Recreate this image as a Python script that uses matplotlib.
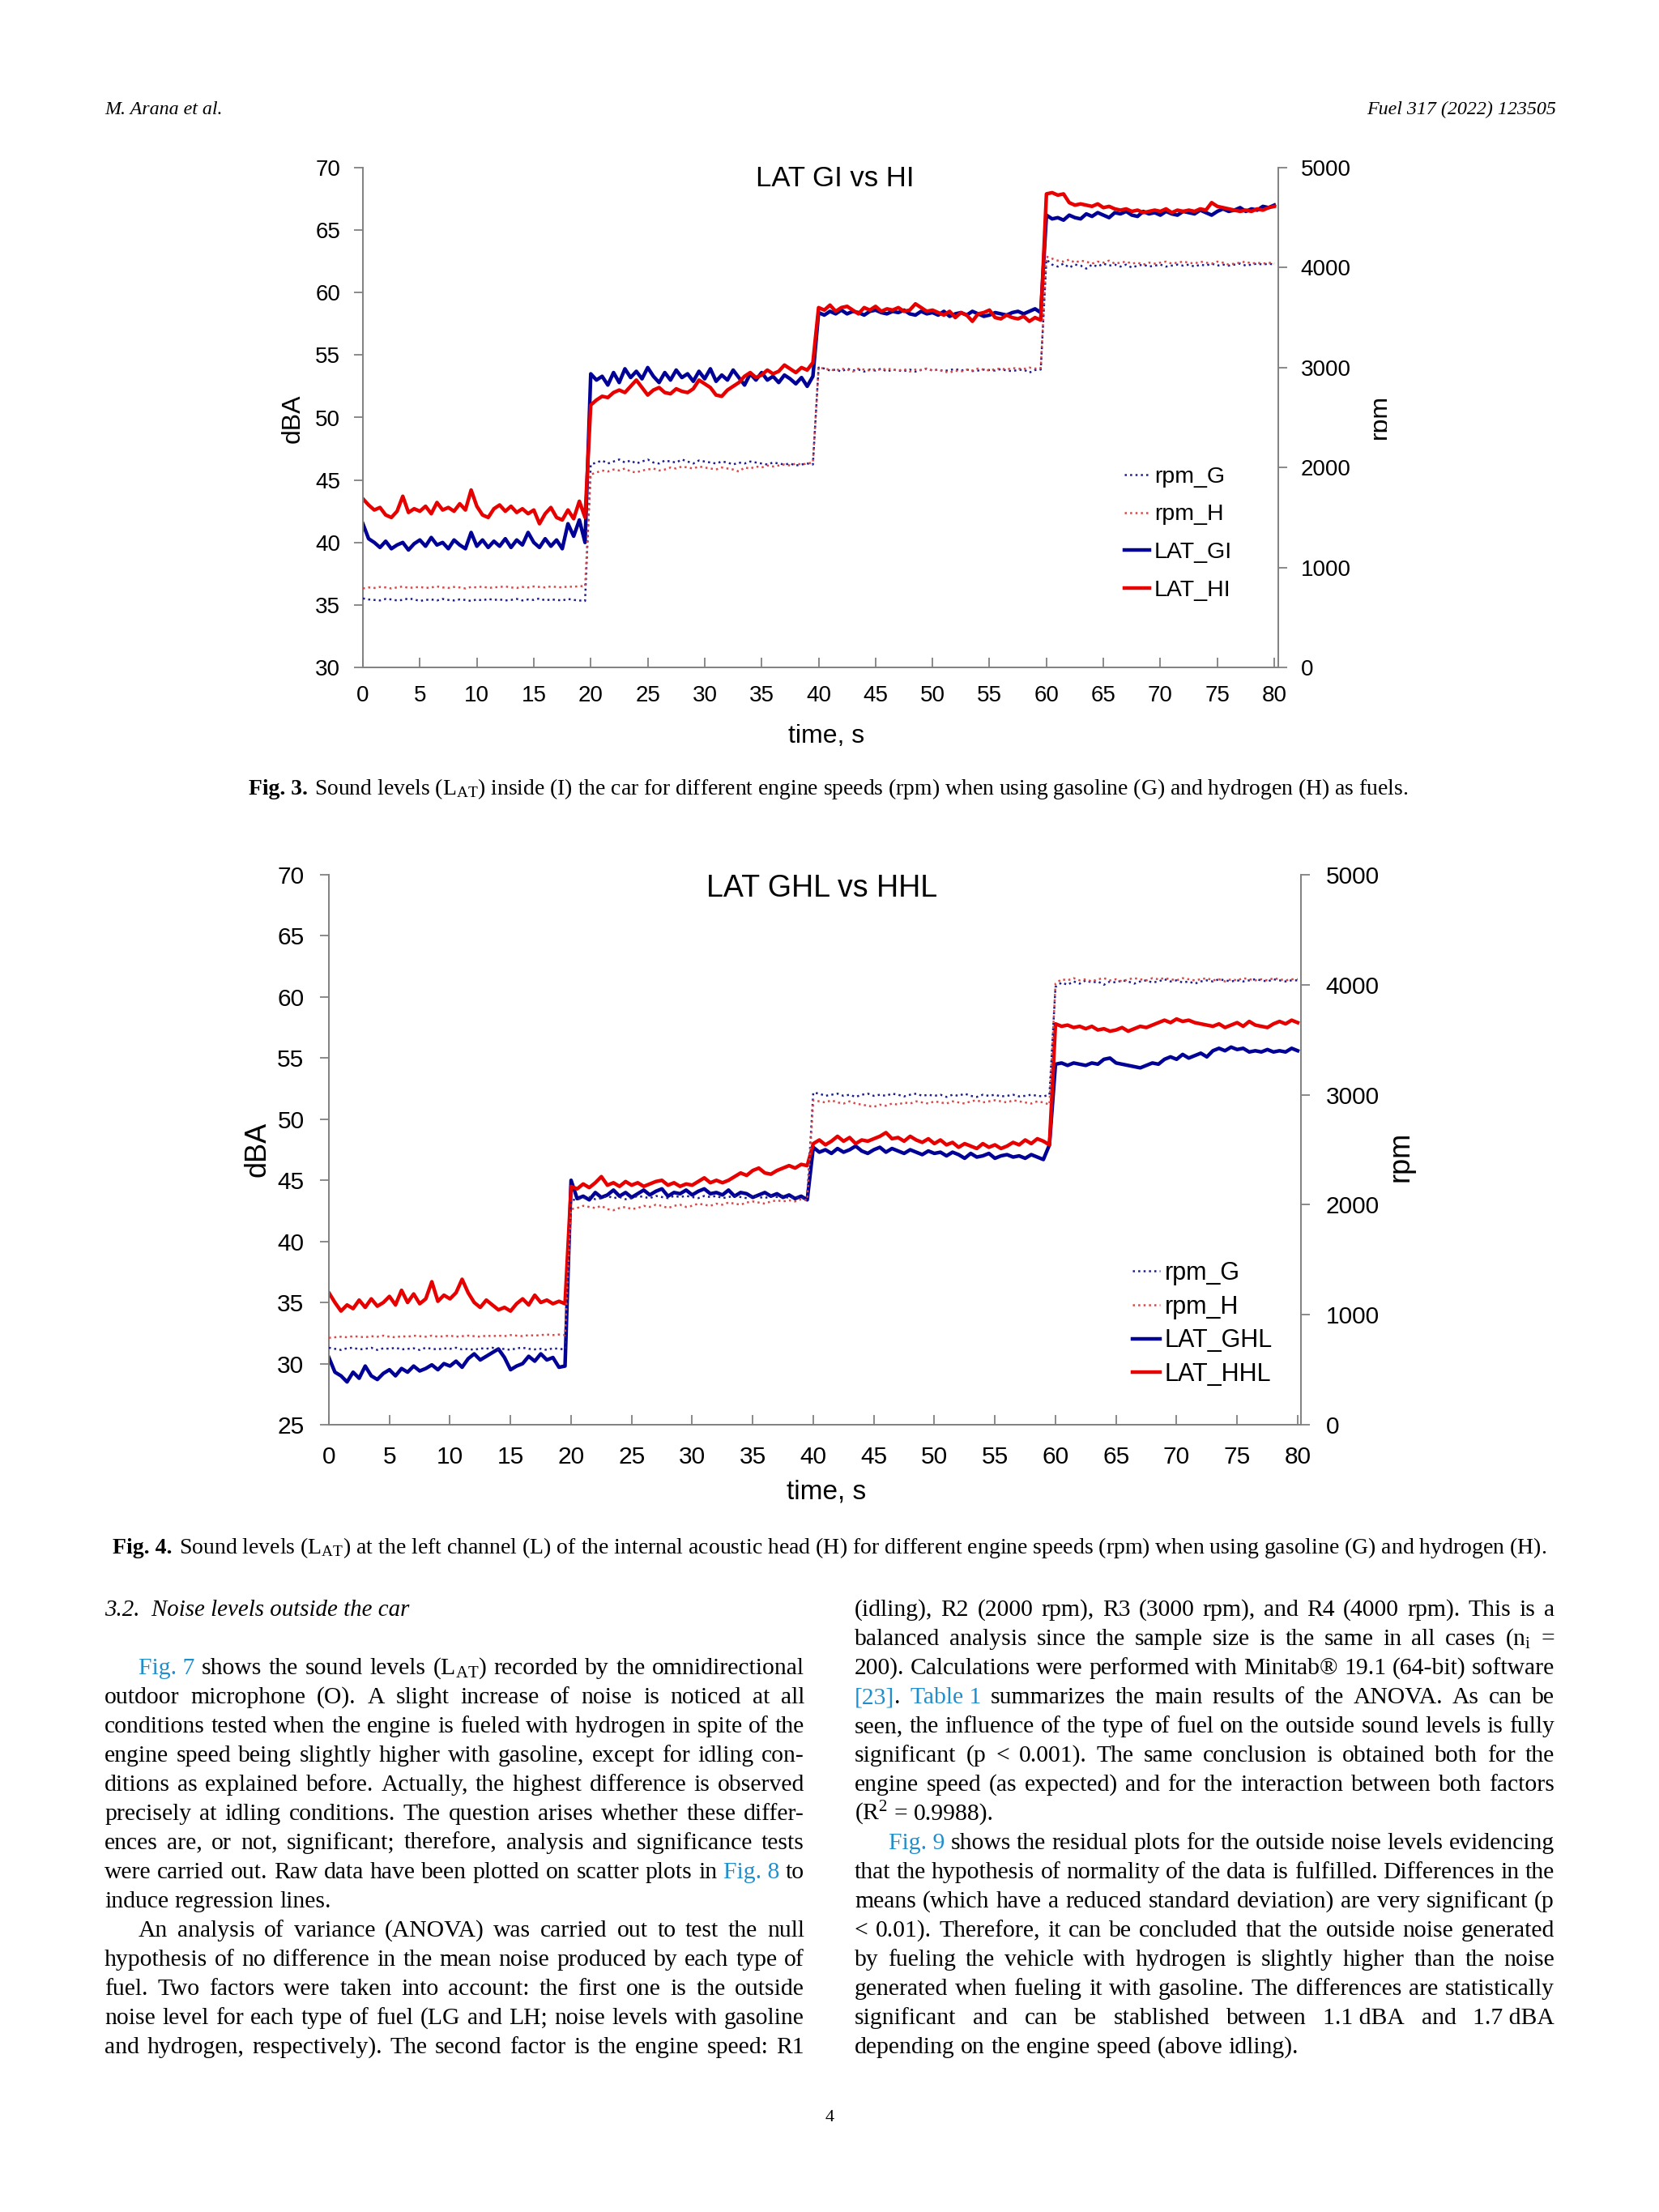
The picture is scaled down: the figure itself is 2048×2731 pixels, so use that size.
import numpy as np
import matplotlib
matplotlib.use('Agg')
import matplotlib.pyplot as plt
from matplotlib.lines import Line2D
from matplotlib.transforms import Bbox

# ---- data (0.5 s steps, 0..80 s) ----
time_s = np.arange(0, 80.5, 0.5)

fig3_lat_gi = [
    41.5, 40.3, 40.0, 39.6, 40.1, 39.5, 39.8, 40.0, 39.4, 39.9, 40.2, 39.7, 40.4, 39.8, 40.0, 39.5, 40.2, 39.8, 39.5, 40.8,
    39.7, 40.2, 39.6, 40.1, 39.7, 40.3, 39.6, 40.2, 39.8, 40.8, 40.0, 39.6, 40.3, 39.7, 40.2, 39.5, 41.5, 40.5, 41.8, 40.0,
    53.5, 53.0, 53.3, 52.6, 53.6, 52.8, 53.9, 53.2, 53.7, 53.1, 54.0, 53.3, 52.8, 53.6, 53.0, 53.8, 53.2, 53.5, 52.9, 53.7,
    53.1, 53.9, 52.9, 53.4, 53.0, 53.8, 53.2, 52.6, 53.5, 53.0, 53.6, 53.0, 53.3, 52.8, 53.4, 53.1, 52.7, 53.2, 52.5, 53.3,
    58.4, 58.2, 58.5, 58.3, 58.6, 58.3, 58.5, 58.4, 58.2, 58.5, 58.6, 58.4, 58.3, 58.5, 58.4, 58.6, 58.3, 58.2, 58.5, 58.3,
    58.4, 58.2, 58.5, 58.1, 58.3, 58.4, 58.2, 58.5, 58.3, 58.1, 58.2, 58.4, 58.3, 58.2, 58.4, 58.5, 58.3, 58.5, 58.7, 58.4,
    66.2, 65.9, 66.0, 65.8, 66.2, 66.0, 65.9, 66.3, 66.1, 66.4, 66.2, 66.0, 66.4, 66.3, 66.5, 66.2, 66.1, 66.5, 66.3, 66.4,
    66.2, 66.5, 66.3, 66.2, 66.5, 66.4, 66.3, 66.6, 66.4, 66.2, 66.5, 66.7, 66.5, 66.6, 66.8, 66.5, 66.7, 66.6, 66.9, 66.8,
    67.0]
fig3_lat_hi = [
    43.5, 43.0, 42.6, 42.8, 42.2, 42.0, 42.5, 43.7, 42.4, 42.7, 42.5, 42.9, 42.3, 43.2, 42.6, 42.8, 42.5, 43.1, 42.6, 44.2,
    42.9, 42.2, 42.0, 42.7, 43.0, 42.5, 42.9, 42.4, 42.7, 42.3, 42.6, 41.5, 42.3, 42.8, 42.0, 41.8, 42.6, 41.9, 43.3, 42.0,
    51.0, 51.4, 51.7, 51.6, 52.0, 52.2, 52.0, 52.5, 53.0, 52.4, 51.8, 52.2, 52.4, 52.0, 51.9, 52.3, 52.1, 52.0, 52.3, 53.0,
    52.7, 52.4, 51.8, 51.7, 52.2, 52.5, 52.8, 53.3, 53.6, 53.2, 53.4, 53.8, 53.5, 53.7, 54.2, 53.9, 53.6, 54.0, 53.8, 54.4,
    58.8, 58.6, 59.0, 58.5, 58.8, 58.9, 58.6, 58.3, 58.8, 58.6, 58.9, 58.5, 58.7, 58.6, 58.8, 58.5, 58.6, 59.1, 58.8, 58.5,
    58.6, 58.4, 58.2, 58.5, 58.0, 58.4, 58.2, 57.7, 58.3, 58.4, 58.6, 58.0, 57.9, 58.2, 58.0, 57.9, 58.1, 57.7, 58.0, 57.8,
    67.9, 68.0, 67.8, 67.9, 67.2, 67.0, 67.1, 67.0, 66.9, 67.1, 66.8, 66.9, 66.7, 66.6, 66.7, 66.5, 66.6, 66.4, 66.5, 66.6,
    66.5, 66.7, 66.4, 66.6, 66.5, 66.6, 66.5, 66.7, 66.6, 67.2, 66.9, 66.8, 66.7, 66.6, 66.5, 66.6, 66.5, 66.7, 66.6, 66.8,
    66.9]
fig3_rpm_g = [
    690, 680, 675, 670, 685, 680, 670, 675, 690, 680, 665, 675, 680, 670, 685, 675, 670, 680, 675, 665,
    680, 670, 685, 675, 680, 670, 675, 685, 670, 680, 675, 690, 670, 680, 675, 670, 685, 675, 670, 665,
    2030, 2050, 2070, 2040, 2060, 2080, 2050, 2070, 2040, 2060, 2080, 2050, 2040, 2070, 2060, 2050, 2080, 2060, 2040, 2070,
    2060, 2050, 2040, 2060, 2050, 2030, 2050, 2040, 2060, 2050, 2040, 2030, 2050, 2040, 2030, 2040, 2020, 2030, 2040, 2030,
    3000, 2990, 2970, 2980, 2960, 2990, 2970, 2980, 2960, 2980, 2970, 2990, 2960, 2980, 2970, 2965, 2980, 2960, 2975, 2990,
    2970, 2980, 2965, 2975, 2985, 2970, 2980, 2965, 2970, 2980, 2975, 2970, 2985, 2970, 2965, 2975, 2980, 2950, 2975, 2980,
    4080, 4030, 4010, 4040, 4000, 4030, 4020, 3990, 4030, 4010, 4040, 4020, 4030, 4010, 4030, 4000, 4020, 4030, 4010, 4020,
    4030, 4010, 4020, 4030, 4020, 4030, 4010, 4030, 4020, 4040, 4020, 4030, 4020, 4030, 4040, 4020, 4030, 4040, 4030, 4040,
    4030]
fig3_rpm_h = [
    790, 800, 795, 805, 800, 790, 800, 810, 795, 800, 805, 795, 800, 810, 800, 795, 805, 800, 790, 805,
    800, 810, 795, 800, 805, 810, 800, 795, 805, 800, 810, 805, 800, 810, 805, 800, 810, 805, 815, 810,
    1930, 1950, 1970, 1960, 1980, 1970, 1990, 1960, 1950, 1970, 1980, 1990, 1970, 1980, 2000, 1990, 2010, 2000, 1990, 2010,
    2000, 1990, 1980, 2000, 1990, 1980, 1960, 2000, 1990, 2010, 2000, 2020, 2010, 2020, 2030, 2020, 2040, 2030, 2040, 2050,
    3000, 2990, 2980, 2970, 2990, 2980, 2960, 2990, 2980, 2970, 2985, 2975, 2990, 2980, 2970, 2985, 2960, 2980, 2975, 2990,
    2970, 2980, 2960, 2950, 2970, 2960, 2980, 2970, 2990, 2980, 2970, 2985, 2990, 2980, 2995, 2990, 2985, 3000, 2990, 2995,
    4110, 4090, 4070, 4060, 4080, 4050, 4070, 4060, 4040, 4060, 4050, 4070, 4040, 4050, 4060, 4040, 4050, 4030, 4050, 4040,
    4050, 4060, 4040, 4050, 4060, 4050, 4040, 4060, 4050, 4040, 4060, 4050, 4030, 4040, 4050, 4060, 4040, 4050, 4040, 4050,
    4040]

fig4_lat_ghl = [
    30.5, 29.3, 29.0, 28.5, 29.3, 28.8, 29.8, 29.0, 28.7, 29.2, 29.5, 29.0, 29.6, 29.3, 29.8, 29.4, 29.6, 29.9, 29.5, 30.0,
    29.8, 30.2, 29.7, 30.4, 30.8, 30.3, 30.6, 30.9, 31.2, 30.5, 29.5, 29.8, 30.0, 30.6, 30.2, 30.8, 30.3, 30.5, 29.7, 29.8,
    45.0, 43.5, 43.7, 43.4, 44.0, 43.6, 43.8, 44.2, 43.7, 44.0, 43.6, 43.9, 44.2, 43.8, 44.1, 44.3, 43.7, 44.0, 43.9, 44.2,
    43.8, 44.1, 44.3, 43.9, 44.0, 43.8, 44.2, 43.7, 44.0, 43.9, 43.6, 43.8, 44.0, 43.7, 43.9, 43.6, 43.8, 43.5, 43.7, 43.4,
    47.7, 47.3, 47.5, 47.2, 47.6, 47.3, 47.5, 47.8, 47.4, 47.2, 47.5, 47.7, 47.3, 47.6, 47.4, 47.2, 47.5, 47.3, 47.1, 47.4,
    47.2, 47.3, 47.0, 47.3, 47.1, 46.8, 47.2, 46.9, 47.0, 47.2, 46.8, 47.0, 47.1, 46.9, 47.0, 46.8, 47.1, 46.9, 46.7, 47.9,
    54.5, 54.6, 54.4, 54.6, 54.5, 54.4, 54.6, 54.5, 54.9, 55.0, 54.6, 54.5, 54.4, 54.3, 54.2, 54.4, 54.6, 54.5, 54.9, 55.1,
    54.9, 55.3, 55.0, 55.2, 55.4, 55.1, 55.6, 55.8, 55.6, 55.9, 55.7, 55.8, 55.5, 55.6, 55.5, 55.7, 55.5, 55.6, 55.5, 55.8,
    55.6]
fig4_lat_hhl = [
    35.8, 35.0, 34.3, 34.8, 34.5, 35.2, 34.6, 35.3, 34.7, 35.0, 35.5, 34.8, 36.0, 35.0, 35.7, 34.9, 35.3, 36.7, 35.1, 35.6,
    35.3, 35.8, 36.9, 35.8, 35.0, 34.6, 35.2, 34.8, 34.4, 34.6, 34.3, 34.9, 35.3, 34.8, 35.6, 35.0, 35.2, 34.9, 35.1, 34.9,
    44.5, 44.3, 44.7, 44.4, 44.8, 45.3, 44.6, 44.8, 44.5, 44.9, 44.6, 44.8, 44.5, 44.7, 44.9, 45.0, 44.6, 44.8, 44.5, 44.7,
    44.6, 44.9, 45.2, 44.8, 45.0, 44.8, 45.0, 45.3, 45.6, 45.4, 45.8, 46.0, 45.6, 45.5, 45.8, 46.0, 46.2, 46.0, 46.3, 46.2,
    48.0, 48.3, 47.9, 48.2, 48.6, 48.2, 48.5, 48.0, 48.3, 48.2, 48.4, 48.6, 48.9, 48.4, 48.5, 48.2, 48.6, 48.3, 48.1, 48.4,
    48.0, 48.3, 47.9, 48.1, 47.7, 48.0, 47.8, 47.6, 48.0, 47.7, 47.9, 47.6, 47.8, 48.1, 47.9, 48.3, 48.0, 48.4, 48.2, 47.9,
    57.8, 57.6, 57.7, 57.5, 57.6, 57.4, 57.6, 57.3, 57.4, 57.2, 57.3, 57.5, 57.2, 57.4, 57.6, 57.5, 57.7, 57.9, 58.1, 57.9,
    58.2, 58.0, 58.1, 57.9, 57.8, 57.7, 57.6, 57.8, 57.5, 57.7, 57.9, 57.6, 58.0, 57.7, 57.6, 57.5, 57.8, 58.0, 57.8, 58.1,
    57.9]
fig4_rpm_g = [
    700, 690, 680, 695, 700, 685, 690, 700, 680, 695, 690, 700, 685, 690, 695, 680, 700, 690, 685, 695,
    690, 700, 685, 690, 680, 695, 690, 700, 685, 690, 680, 695, 700, 690, 685, 690, 680, 695, 690, 685,
    2040, 2050, 2060, 2070, 2050, 2060, 2080, 2060, 2070, 2050, 2060, 2080, 2070, 2060, 2080, 2070, 2060, 2080, 2070, 2080,
    2070, 2060, 2080, 2070, 2080, 2060, 2070, 2080, 2070, 2060, 2080, 2070, 2060, 2080, 2070, 2080, 2060, 2070, 2060, 2070,
    3020, 3010, 2990, 3000, 3010, 2990, 3000, 2980, 3000, 3010, 2990, 3000, 2990, 3010, 3000, 2985, 3000, 3010, 2990, 3000,
    2990, 3000, 2980, 3000, 2990, 3010, 2990, 2980, 3000, 2990, 3000, 2985, 2990, 3000, 2985, 2990, 3000, 2990, 2985, 3000,
    3980, 4020, 4000, 4030, 4010, 4040, 4020, 4030, 4000, 4030, 4020, 4040, 4030, 4010, 4030, 4040, 4020, 4030, 4050, 4030,
    4040, 4020, 4030, 4010, 4030, 4040, 4030, 4050, 4040, 4030, 4040, 4030, 4040, 4050, 4040, 4030, 4050, 4040, 4030, 4040,
    4040]
fig4_rpm_h = [
    790, 795, 800, 795, 805, 800, 795, 805, 800, 810, 800, 795, 805, 800, 810, 805, 800, 810, 800, 805,
    810, 800, 805, 810, 805, 800, 810, 805, 810, 805, 815, 810, 805, 815, 810, 815, 820, 815, 820, 815,
    1960, 1970, 1990, 1980, 1970, 1990, 1960, 1950, 1970, 1980, 1960, 1970, 1990, 1980, 2000, 1990, 1970, 1990, 2000, 1980,
    1990, 2010, 2000, 1990, 2010, 2000, 2020, 2010, 2000, 2020, 2030, 2020, 2010, 2030, 2040, 2030, 2040, 2030, 2050, 2040,
    2950, 2940, 2930, 2950, 2930, 2920, 2940, 2920, 2910, 2900, 2890, 2910, 2900, 2920, 2910, 2930, 2920, 2940, 2930, 2920,
    2940, 2930, 2920, 2940, 2930, 2920, 2940, 2950, 2930, 2940, 2950, 2940, 2930, 2950, 2940, 2930, 2920, 2940, 2930, 2910,
    4010, 4050, 4040, 4060, 4040, 4050, 4030, 4050, 4060, 4040, 4050, 4030, 4050, 4060, 4050, 4040, 4060, 4050, 4060, 4050,
    4040, 4060, 4050, 4040, 4050, 4060, 4040, 4050, 4030, 4050, 4040, 4060, 4050, 4040, 4050, 4040, 4060, 4050, 4040, 4050,
    4050]

x_ticks = list(range(0, 81, 5))
fig3_yticks = list(range(30, 71, 5))
fig4_yticks = list(range(25, 71, 5))
rpm_ticks = list(range(0, 5001, 1000))
fig3_labels = ['rpm_G', 'rpm_H', 'LAT_GI', 'LAT_HI']
fig4_labels = ['rpm_G', 'rpm_H', 'LAT_GHL', 'LAT_HHL']

# ---- page text ----
caption3 = ('Fig. 3.', 'Sound levels (L$_{\\mathrm{AT}}$) inside (I) the car for different engine speeds (rpm) '
            'when using gasoline (G) and hydrogen (H) as fuels.')
caption4 = ('Fig. 4.', 'Sound levels (L$_{\\mathrm{AT}}$) at the left channel (L) of the internal acoustic head (H) '
            'for different engine speeds (rpm) when using gasoline (G) and hydrogen (H).')

# '@' = link colour, '|' = join pieces without space, '~' = fixed space; (text, justify, indent)
left_col = [
    ('@Fig.~7 shows the sound levels (L$_{\\mathrm{AT}}$) recorded by the omnidirectional', True, True),
    ('outdoor microphone (O). A slight increase of noise is noticed at all', True, False),
    ('conditions tested when the engine is fueled with hydrogen in spite of the', True, False),
    ('engine speed being slightly higher with gasoline, except for idling con-', True, False),
    ('ditions as explained before. Actually, the highest difference is observed', True, False),
    ('precisely at idling conditions. The question arises whether these differ-', True, False),
    ('ences are, or not, significant; therefore, analysis and significance tests', True, False),
    ('were carried out. Raw data have been plotted on scatter plots in @Fig.~8 to', True, False),
    ('induce regression lines.', False, False),
    ('An analysis of variance (ANOVA) was carried out to test the null', True, True),
    ('hypothesis of no difference in the mean noise produced by each type of', True, False),
    ('fuel. Two factors were taken into account: the first one is the outside', True, False),
    ('noise level for each type of fuel (LG and LH; noise levels with gasoline', True, False),
    ('and hydrogen, respectively). The second factor is the engine speed: R1', True, False),
]
right_col = [
    ('(idling), R2 (2000 rpm), R3 (3000 rpm), and R4 (4000 rpm). This is a', True, False),
    ('balanced analysis since the sample size is the same in all cases (n$_{\\mathrm{i}}$ =', True, False),
    ('200). Calculations were performed with Minitab® 19.1 (64-bit) software', True, False),
    ('@[23]|. @Table~1 summarizes the main results of the ANOVA. As can be', True, False),
    ('seen, the influence of the type of fuel on the outside sound levels is fully', True, False),
    ('significant (p < 0.001). The same conclusion is obtained both for the', True, False),
    ('engine speed (as expected) and for the interaction between both factors', True, False),
    ('(R$^{2}$ = 0.9988).', False, False),
    ('@Fig.~9 shows the residual plots for the outside noise levels evidencing', True, True),
    ('that the hypothesis of normality of the data is fulfilled. Differences in the', True, False),
    ('means (which have a reduced standard deviation) are very significant (p', True, False),
    ('< 0.01). Therefore, it can be concluded that the outside noise generated', True, False),
    ('by fueling the vehicle with hydrogen is slightly higher than the noise', True, False),
    ('generated when fueling it with gasoline. The differences are statistically', True, False),
    ('significant and can be stablished between 1.1~dBA and 1.7~dBA', True, False),
    ('depending on the engine speed (above idling).', False, False),
]

W, H = 2048, 2731
SERIF = 'Liberation Serif'
LINK = '#1f8ecd'
BLUE = '#000096'
RED = '#e60000'
BLUE_DOT = '#1c1c8c'
RED_DOT = '#d84848'
AXIS = '#808080'
PX = 100 / 72

plt.rcParams['font.family'] = 'Liberation Sans'
plt.rcParams['mathtext.fontset'] = 'custom'
plt.rcParams['mathtext.rm'] = SERIF
plt.rcParams['mathtext.it'] = SERIF + ':italic'
plt.rcParams['mathtext.bf'] = SERIF + ':bold'

fig = plt.figure(figsize=(W / 100, H / 100), dpi=100)
fig.patch.set_facecolor('white')
renderer = fig.canvas.get_renderer()


def fx(x):
    return x / W


def fy(y):
    return 1 - y / H


def measure(s, size, **kw):
    t = fig.text(0, 0, s, fontsize=size, family=SERIF, **kw)
    w = t.get_window_extent(renderer).width
    t.remove()
    return w


def draw_chart(rect, xmax, ylim, yticks, lat_g, lat_h, rpm_g, rpm_h, labels, fs, pads, leg):
    ax = fig.add_axes(rect)
    ax2 = ax.twinx()
    ax.plot(time_s, lat_g, color=BLUE, lw=3.2)
    ax.plot(time_s, lat_h, color=RED, lw=3.2)
    ax2.plot(time_s, rpm_g, color=BLUE_DOT, lw=1.8, ls=':')
    ax2.plot(time_s, rpm_h, color=RED_DOT, lw=1.8, ls=':')
    ax.set_xlim(0, xmax)
    ax.set_ylim(*ylim)
    ax2.set_ylim(0, 5000)
    ax.set_xticks(x_ticks)
    ax.set_yticks(yticks)
    ax2.set_yticks(rpm_ticks)
    ax.spines['top'].set_visible(False)
    ax.spines['right'].set_visible(False)
    for s in ('top', 'left', 'bottom'):
        ax2.spines[s].set_visible(False)
    for a in (ax, ax2):
        for s in a.spines.values():
            s.set_color(AXIS)
            s.set_linewidth(1.4)
    ax.tick_params(axis='x', direction='in', length=9, width=1.3, color=AXIS, labelsize=fs, pad=pads[0])
    ax.tick_params(axis='y', direction='out', length=8, width=1.3, color=AXIS, labelsize=fs, pad=pads[1])
    ax2.tick_params(axis='y', direction='out', length=8, width=1.3, color=AXIS, labelsize=fs, pad=pads[2])
    handles = [Line2D([], [], color=BLUE_DOT, lw=1.8, ls=':'),
               Line2D([], [], color=RED_DOT, lw=1.8, ls=':'),
               Line2D([], [], color=BLUE, lw=3.2),
               Line2D([], [], color=RED, lw=3.2)]
    ax2.legend(handles, labels, loc='upper left', bbox_to_anchor=(fx(leg[0]), fy(leg[1])),
               bbox_transform=fig.transFigure, frameon=False, borderpad=0, borderaxespad=0,
               fontsize=leg[2], handlelength=leg[3], handletextpad=leg[4], labelspacing=leg[5])
    return ax, ax2


# ---- Fig. 3 ----
draw_chart([fx(448), fy(824), (1578 - 448) / W, (824 - 207) / H], 80.35, (30, 70), fig3_yticks,
           fig3_lat_gi, fig3_lat_hi, fig3_rpm_g, fig3_rpm_h, fig3_labels,
           20, (16, 12, 12), (1388, 576, 20.5, 1.1, 0.2, 0.72))
fig.text(fx(1031), fy(220), 'LAT GI vs HI', fontsize=25, ha='center', va='center')
fig.text(fx(362), fy(517), 'dBA', fontsize=23, rotation=90, ha='center', va='center')
rl = fig.text(fx(1704), fy(514), 'rpm', fontsize=23, rotation=90, ha='center', va='center')
rl.set_clip_box(Bbox.from_extents(0, 0, 1712, H))
rl.set_clip_on(True)
fig.text(fx(1020), fy(909), 'time, s', fontsize=23, ha='center', va='center')

# ---- Fig. 4 ----
draw_chart([fx(406), fy(1759), (1606 - 406) / W, (1759 - 1080) / H], 80.27, (25, 70), fig4_yticks,
           fig4_lat_ghl, fig4_lat_hhl, fig4_rpm_g, fig4_rpm_h, fig4_labels,
           21.5, (19, 14, 14), (1398, 1557, 22, 1.1, 0.2, 0.38))
fig.text(fx(1015), fy(1097), 'LAT GHL vs HHL', fontsize=27, ha='center', va='center')
fig.text(fx(318), fy(1419), 'dBA', fontsize=26, rotation=90, ha='center', va='center')
fig.text(fx(1729), fy(1428), 'rpm', fontsize=26, rotation=90, ha='center', va='center')
fig.text(fx(1020), fy(1842), 'time, s', fontsize=24, ha='center', va='center')

# ---- header, captions, page number ----
hs = 16.5 * 235 / measure('Fuel 317 (2022) 123505', 16.5, style='italic')
fig.text(fx(129), fy(141), 'M. Arana et al.', fontsize=hs, family=SERIF, style='italic', ha='left', va='baseline')
fig.text(fx(1921), fy(141), 'Fuel 317 (2022) 123505', fontsize=hs, family=SERIF, style='italic',
         ha='right', va='baseline')


def caption(parts, x0, x1, y):
    base = 20
    gap = 0.3 * base * PX
    w = measure(parts[0], base, weight='bold') + gap + measure(parts[1], base)
    size = base * (x1 - x0) / w
    wb = measure(parts[0], size, weight='bold')
    fig.text(fx(x0), fy(y), parts[0], fontsize=size, family=SERIF, weight='bold', va='baseline')
    fig.text(fx(x0 + wb + 0.3 * size * PX), fy(y), parts[1], fontsize=size, family=SERIF, va='baseline')


caption(caption3, 307, 1740, 981)
caption(caption4, 139, 1907, 1918)
fig.text(fx(1024), fy(2619), '4', fontsize=16, family=SERIF, ha='center', va='baseline')


# ---- body text, justified by hand ----
def parse(line):
    words = []
    for tok in line.split(' '):
        pieces = []
        for p in tok.split('|'):
            c = LINK if p.startswith('@') else 'black'
            pieces.append((p.lstrip('@').replace('~', ' '), c))
        words.append(pieces)
    return words


def natural_ratio(lines, width, size):
    worst = 0
    for text, just, ind in lines:
        if not just:
            continue
        words = parse(text)
        w = sum(measure(p, size) for wd in words for p, c in wd) + (len(words) - 1) * 0.25 * size * PX
        worst = max(worst, w / (width - (42 if ind else 0)))
    return worst


def draw_column(lines, x0, x1, y0, step, size):
    space = 0.25 * size * PX
    for i, (text, just, ind) in enumerate(lines):
        y = y0 + i * step + 8
        words = parse(text)
        widths = [[measure(p, size) for p, c in wd] for wd in words]
        start = x0 + (42 if ind else 0)
        total = sum(sum(w) for w in widths)
        gap = (x1 - start - total) / (len(words) - 1) if just and len(words) > 1 else space
        x = start
        for wd, ws in zip(words, widths):
            for (p, c), w in zip(wd, ws):
                fig.text(fx(x), fy(y), p, fontsize=size, family=SERIF, color=c, va='baseline')
                x += w
            x += gap


base = 21
ratio = max(natural_ratio(left_col, 993 - 129, base), natural_ratio(right_col, 1919 - 1055, base))
body = base / ratio
hd = body * 376 / measure('3.2.  Noise levels outside the car', body, style='italic')
fig.text(fx(129), fy(1995), '3.2.  Noise levels outside the car', fontsize=hd, family=SERIF,
         style='italic', va='baseline')
draw_column(left_col, 129, 993, 2058.6, 36.03, body)
draw_column(right_col, 1055, 1919, 1987, 36.0, body)

fig.savefig('out.png', dpi=100, facecolor='white')
